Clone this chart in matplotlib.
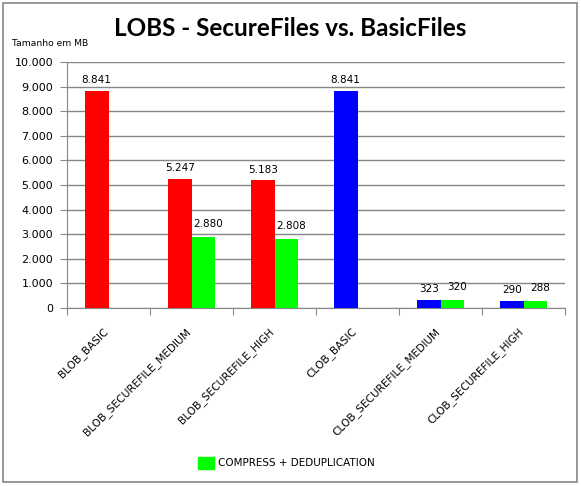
import numpy as np
import matplotlib.pyplot as plt
import matplotlib.transforms as mtrans
from matplotlib.patches import Patch, Rectangle

# Dados (MB)
categorias = ['BLOB_BASIC', 'BLOB_SECUREFILE_MEDIUM', 'BLOB_SECUREFILE_HIGH',
              'CLOB_BASIC', 'CLOB_SECUREFILE_MEDIUM', 'CLOB_SECUREFILE_HIGH']
tamanho = [8841, 5247, 5183, 8841, 323, 290]
compress_dedup = [np.nan, 2880, 2808, np.nan, 320, 288]
cores_base = ['#FF0000', '#FF0000', '#FF0000', '#0000FF', '#0000FF', '#0000FF']
cor_dedup = '#00FF00'
y_ticks = np.arange(0, 10001, 1000)


def fmt(v):
    return f'{v:,.0f}'.replace(',', '.')


W, H = 581, 486
fig = plt.figure(figsize=(W / 100, H / 100), dpi=100)
fig.patch.set_facecolor('white')
fig.add_artist(Rectangle((3 / W, 4 / H), 574 / W, 479 / H, transform=fig.transFigure,
                         fill=False, edgecolor='#868686', linewidth=1.2))

ax = fig.add_axes([67 / W, 1 - 308 / H, 498 / W, 246 / H])
grid_c = '#868686'

x = np.arange(len(categorias))
w = 0.285
ax.bar(x - w / 2, tamanho, w, color=cores_base, zorder=3)
ax.bar(x + w / 2, compress_dedup, w, color=cor_dedup, zorder=3)

# rótulos de dados
for xi, v in zip(x, tamanho):
    ax.text(xi - w / 2, v + 230, fmt(v), ha='center', va='bottom', fontsize=7.5)
for xi, v in zip(x, compress_dedup):
    if not np.isnan(v):
        ax.text(xi + w / 2 + 0.06, v + 330, fmt(v), ha='center', va='bottom', fontsize=7.5)

ax.set_xlim(-0.5, len(categorias) - 0.5)
ax.set_ylim(0, 10000)
ax.set_yticks(y_ticks)
ax.set_yticklabels([fmt(t) for t in y_ticks], fontsize=8)
ax.yaxis.grid(True, color=grid_c, linewidth=1, zorder=0)
ax.set_axisbelow(True)

ax.set_xticks(np.arange(-0.5, len(categorias)), labels=[''] * (len(categorias) + 1))
ax.set_xticks(x, minor=True)
ax.set_xticklabels(categorias, minor=True, rotation=45, ha='right',
                   rotation_mode='anchor', fontsize=7.7)
ax.tick_params(axis='x', which='minor', length=0, pad=13)
ax.tick_params(axis='y', which='major', pad=5)
ax.tick_params(axis='both', which='major', length=5, color=grid_c, direction='out')
shift = mtrans.ScaledTranslation(-6 / 100, 0, fig.dpi_scale_trans)
for lbl in ax.get_xticklabels(minor=True):
    lbl.set_transform(lbl.get_transform() + shift)

for s in ['top', 'right']:
    ax.spines[s].set_visible(False)
for s in ['left', 'bottom']:
    ax.spines[s].set_color(grid_c)

fig.text(0.5, 1 - 29 / H, 'LOBS - SecureFiles vs. BasicFiles', ha='center', va='center',
         fontsize=17.5, fontweight='bold', family='Lato')
fig.text(12 / W, 1 - 43 / H, 'Tamanho em MB', ha='left', va='center', fontsize=6.6)

fig.legend(handles=[Patch(color=cor_dedup)], labels=['COMPRESS + DEDUPLICATION'],
           loc='center', bbox_to_anchor=(286 / W, 1 - 463 / H), frameon=False,
           fontsize=7.5, handlelength=1.6, handleheight=1.35, handletextpad=0.3)

fig.savefig('out.png', dpi=100)
